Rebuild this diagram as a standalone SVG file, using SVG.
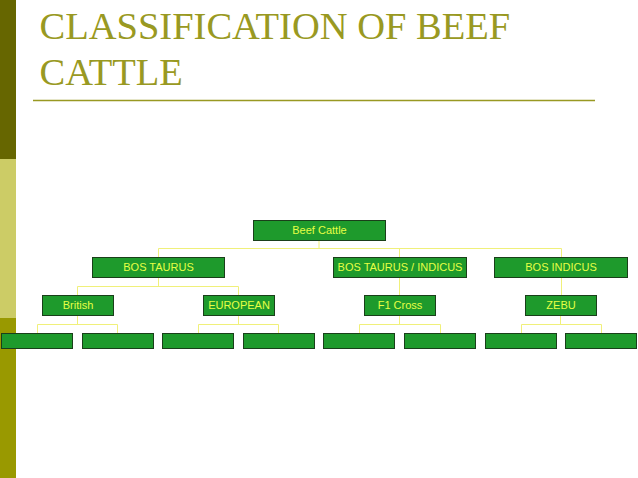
<svg xmlns="http://www.w3.org/2000/svg" width="638" height="478" viewBox="0 0 638 478">
<style>
.n rect{fill:#1e9a2c;stroke:#1a3f1a;stroke-width:1}
.n text{font-family:"Liberation Sans",Arial,sans-serif;font-size:11px;fill:#e6ff44;text-anchor:middle}
.c{stroke:#f0f07a;stroke-width:1;fill:none}
</style>
<rect width="638" height="478" fill="#ffffff"/>
<rect x="0" y="0" width="16" height="159" fill="#666600"/>
<rect x="0" y="159" width="16" height="159" fill="#cccc66"/>
<rect x="0" y="318" width="16" height="160" fill="#999900"/>
<g id="title" font-family="'Liberation Serif','Times New Roman',serif" font-size="38.5" fill="#999922">
<text x="39.5" y="38.5">CLASSIFICATION OF BEEF</text>
<text x="39.5" y="84.5">CATTLE</text>
</g>
<line x1="33" y1="100.5" x2="595" y2="100.5" stroke="#999922" stroke-width="1.5"/>
<g id="connectors" class="c">
<path d="M319 240V248.5M158.5 257V248.5H561.5V257M399.5 248.5V257"/>
<path d="M158.5 277V286.5M77.5 295V286.5H238.5V295"/>
<path d="M399.5 277V295M561.5 277V295"/>
<path d="M77.5 315V324.5M37.5 333V324.5H117.5V333"/>
<path d="M238.5 315V324.5M198.5 333V324.5H278.5V333"/>
<path d="M399.5 315V324.5M359.5 333V324.5H440.5V333"/>
<path d="M560.5 315V324.5M521.5 333V324.5H601.5V333"/>
</g>
<g id="beef" class="n"><rect x="253.5" y="220.5" width="132" height="20"/><text x="319.5" y="234">Beef Cattle</text></g>
<g id="bostaurus" class="n"><rect x="92.5" y="257.5" width="132" height="20"/><text x="158.5" y="271">BOS TAURUS</text></g>
<g id="bosti" class="n"><rect x="333.5" y="257.5" width="133" height="20"/><text x="400" y="271">BOS TAURUS / INDICUS</text></g>
<g id="bosindicus" class="n"><rect x="494.5" y="257.5" width="133" height="20"/><text x="561" y="271">BOS INDICUS</text></g>
<g id="british" class="n"><rect x="42.5" y="295.5" width="71" height="20"/><text x="78" y="309">British</text></g>
<g id="european" class="n"><rect x="203.5" y="295.5" width="71" height="20"/><text x="239" y="309">EUROPEAN</text></g>
<g id="f1cross" class="n"><rect x="364.5" y="295.5" width="71" height="20"/><text x="400" y="309">F1 Cross</text></g>
<g id="zebu" class="n"><rect x="525.5" y="295.5" width="71" height="20"/><text x="561" y="309">ZEBU</text></g>
<g id="b1" class="n"><rect x="1.5" y="333.5" width="71" height="15"/></g>
<g id="b2" class="n"><rect x="82.5" y="333.5" width="71" height="15"/></g>
<g id="b3" class="n"><rect x="162.5" y="333.5" width="71" height="15"/></g>
<g id="b4" class="n"><rect x="243.5" y="333.5" width="71" height="15"/></g>
<g id="b5" class="n"><rect x="323.5" y="333.5" width="71" height="15"/></g>
<g id="b6" class="n"><rect x="404.5" y="333.5" width="71" height="15"/></g>
<g id="b7" class="n"><rect x="485.5" y="333.5" width="71" height="15"/></g>
<g id="b8" class="n"><rect x="565.5" y="333.5" width="71" height="15"/></g>
</svg>
